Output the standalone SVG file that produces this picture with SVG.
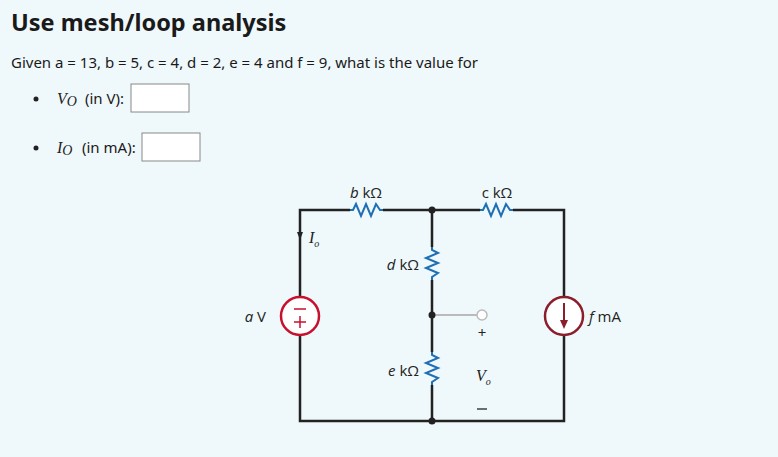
<svg xmlns="http://www.w3.org/2000/svg" width="778" height="457" viewBox="0 0 778 457">
<style>
.t{font-family:"Noto Sans","Open Sans",sans-serif;fill:#1a1a1a}
.w{stroke:#222;stroke-width:2.5;fill:none}
.r{stroke:#1f6fb5;stroke-width:2;fill:none}
.lbl{font-family:"Open Sans","Liberation Sans",sans-serif;font-size:15px;fill:#222}
.it{font-family:"Liberation Serif",serif;font-style:italic;font-size:16px;fill:#222}
.box{fill:#fff;stroke:#888;stroke-width:1}
</style>
<rect width="778" height="457" fill="#eff8fb"/>
<text class="t" x="11" y="31" font-size="23.5" font-weight="bold" fill="#14202a">Use mesh/loop analysis</text>
<text class="t" x="11" y="68" font-size="15" textLength="467">Given a = 13, b = 5, c = 4, d = 2, e = 4 and f = 9, what is the value for</text>
<circle cx="36" cy="99" r="2.5" fill="#222"/>
<text class="it" x="57" y="104" font-size="20">V<tspan font-size="14" dy="2">O</tspan></text>
<text class="t" x="85" y="104" font-size="15">(in V):</text>
<rect class="box" x="131" y="84" width="58" height="28"/>
<circle cx="36" cy="148" r="2.5" fill="#222"/>
<text class="it" x="57" y="153" font-size="20">I<tspan font-size="14" dy="2">O</tspan></text>
<text class="t" x="82" y="153" font-size="15">(in mA):</text>
<rect class="box" x="142" y="133" width="58" height="28"/>
<g id="connectors">
<path class="w" d="M300,297 V210 H350 M383,210 H480 M513,210 H564 V297 M564,335 V421 H300 V335"/>
<path class="w" d="M432,210 V247 M432,280 V352 M432,385 V421"/>
<path d="M432,315 H477" stroke="#bbb" stroke-width="2" fill="none"/>
<path d="M297,232 L303,232 L300,240 Z" fill="#222"/>
</g>
<g id="R_b"><path class="r" d="M350,210 l3,0 l3,-6 l5,12 l5,-12 l5,12 l5,-12 l4,6 l3,0"/><text class="lbl" x="366" y="198" text-anchor="middle"><tspan font-style="italic">b</tspan> kΩ</text></g>
<g id="R_c"><path class="r" d="M480,210 l3,0 l3,-6 l5,12 l5,-12 l5,12 l5,-12 l4,6 l3,0"/><text class="lbl" x="497" y="198" text-anchor="middle">c kΩ</text></g>
<g id="R_d"><path class="r" d="M432,247 l0,3 l6,3 l-12,5 l12,5 l-12,5 l12,5 l-6,4 l0,3"/><text class="lbl" x="419" y="270" text-anchor="end"><tspan font-style="italic">d</tspan> kΩ</text></g>
<g id="R_e"><path class="r" d="M432,352 l0,3 l6,3 l-12,5 l12,5 l-12,5 l12,5 l-6,4 l0,3"/><text class="lbl" x="419" y="376" text-anchor="end"><tspan font-style="italic">e</tspan> kΩ</text></g>
<g id="Vs"><circle cx="300" cy="316" r="19" fill="#fff" stroke="#c8102e" stroke-width="2.5"/><path d="M294,309 H306 M294,322 H306 M300,316 V328" stroke="#c8102e" stroke-width="1.5"/><text class="lbl" x="266" y="322" text-anchor="end"><tspan font-style="italic">a</tspan> V</text></g>
<g id="Is"><circle cx="564" cy="316" r="19" fill="#fff" stroke="#8b1e2a" stroke-width="2.5"/><path d="M564,303 V322" stroke="#8b1e2a" stroke-width="2"/><path d="M560,320 L568,320 L564,329 Z" fill="#8b1e2a"/><text class="lbl" x="589" y="322"><tspan font-style="italic">f</tspan> mA</text></g>
<g id="nodes"><circle cx="432" cy="210" r="3.5" fill="#222"/><circle cx="432" cy="315" r="3.5" fill="#222"/><circle cx="432" cy="421" r="3.5" fill="#222"/></g>
<g id="Vo"><circle cx="482" cy="315" r="5" fill="#fff" stroke="#bbb" stroke-width="1.5"/><text class="lbl" x="482" y="338" text-anchor="middle">+</text><text class="it" x="476" y="381">V<tspan font-size="10" dy="4">o</tspan></text><path d="M477,409 H487" stroke="#222" stroke-width="1.3"/></g>
<g id="Io"><text class="it" x="309" y="243">I<tspan font-size="10" dy="4">o</tspan></text></g>
</svg>
